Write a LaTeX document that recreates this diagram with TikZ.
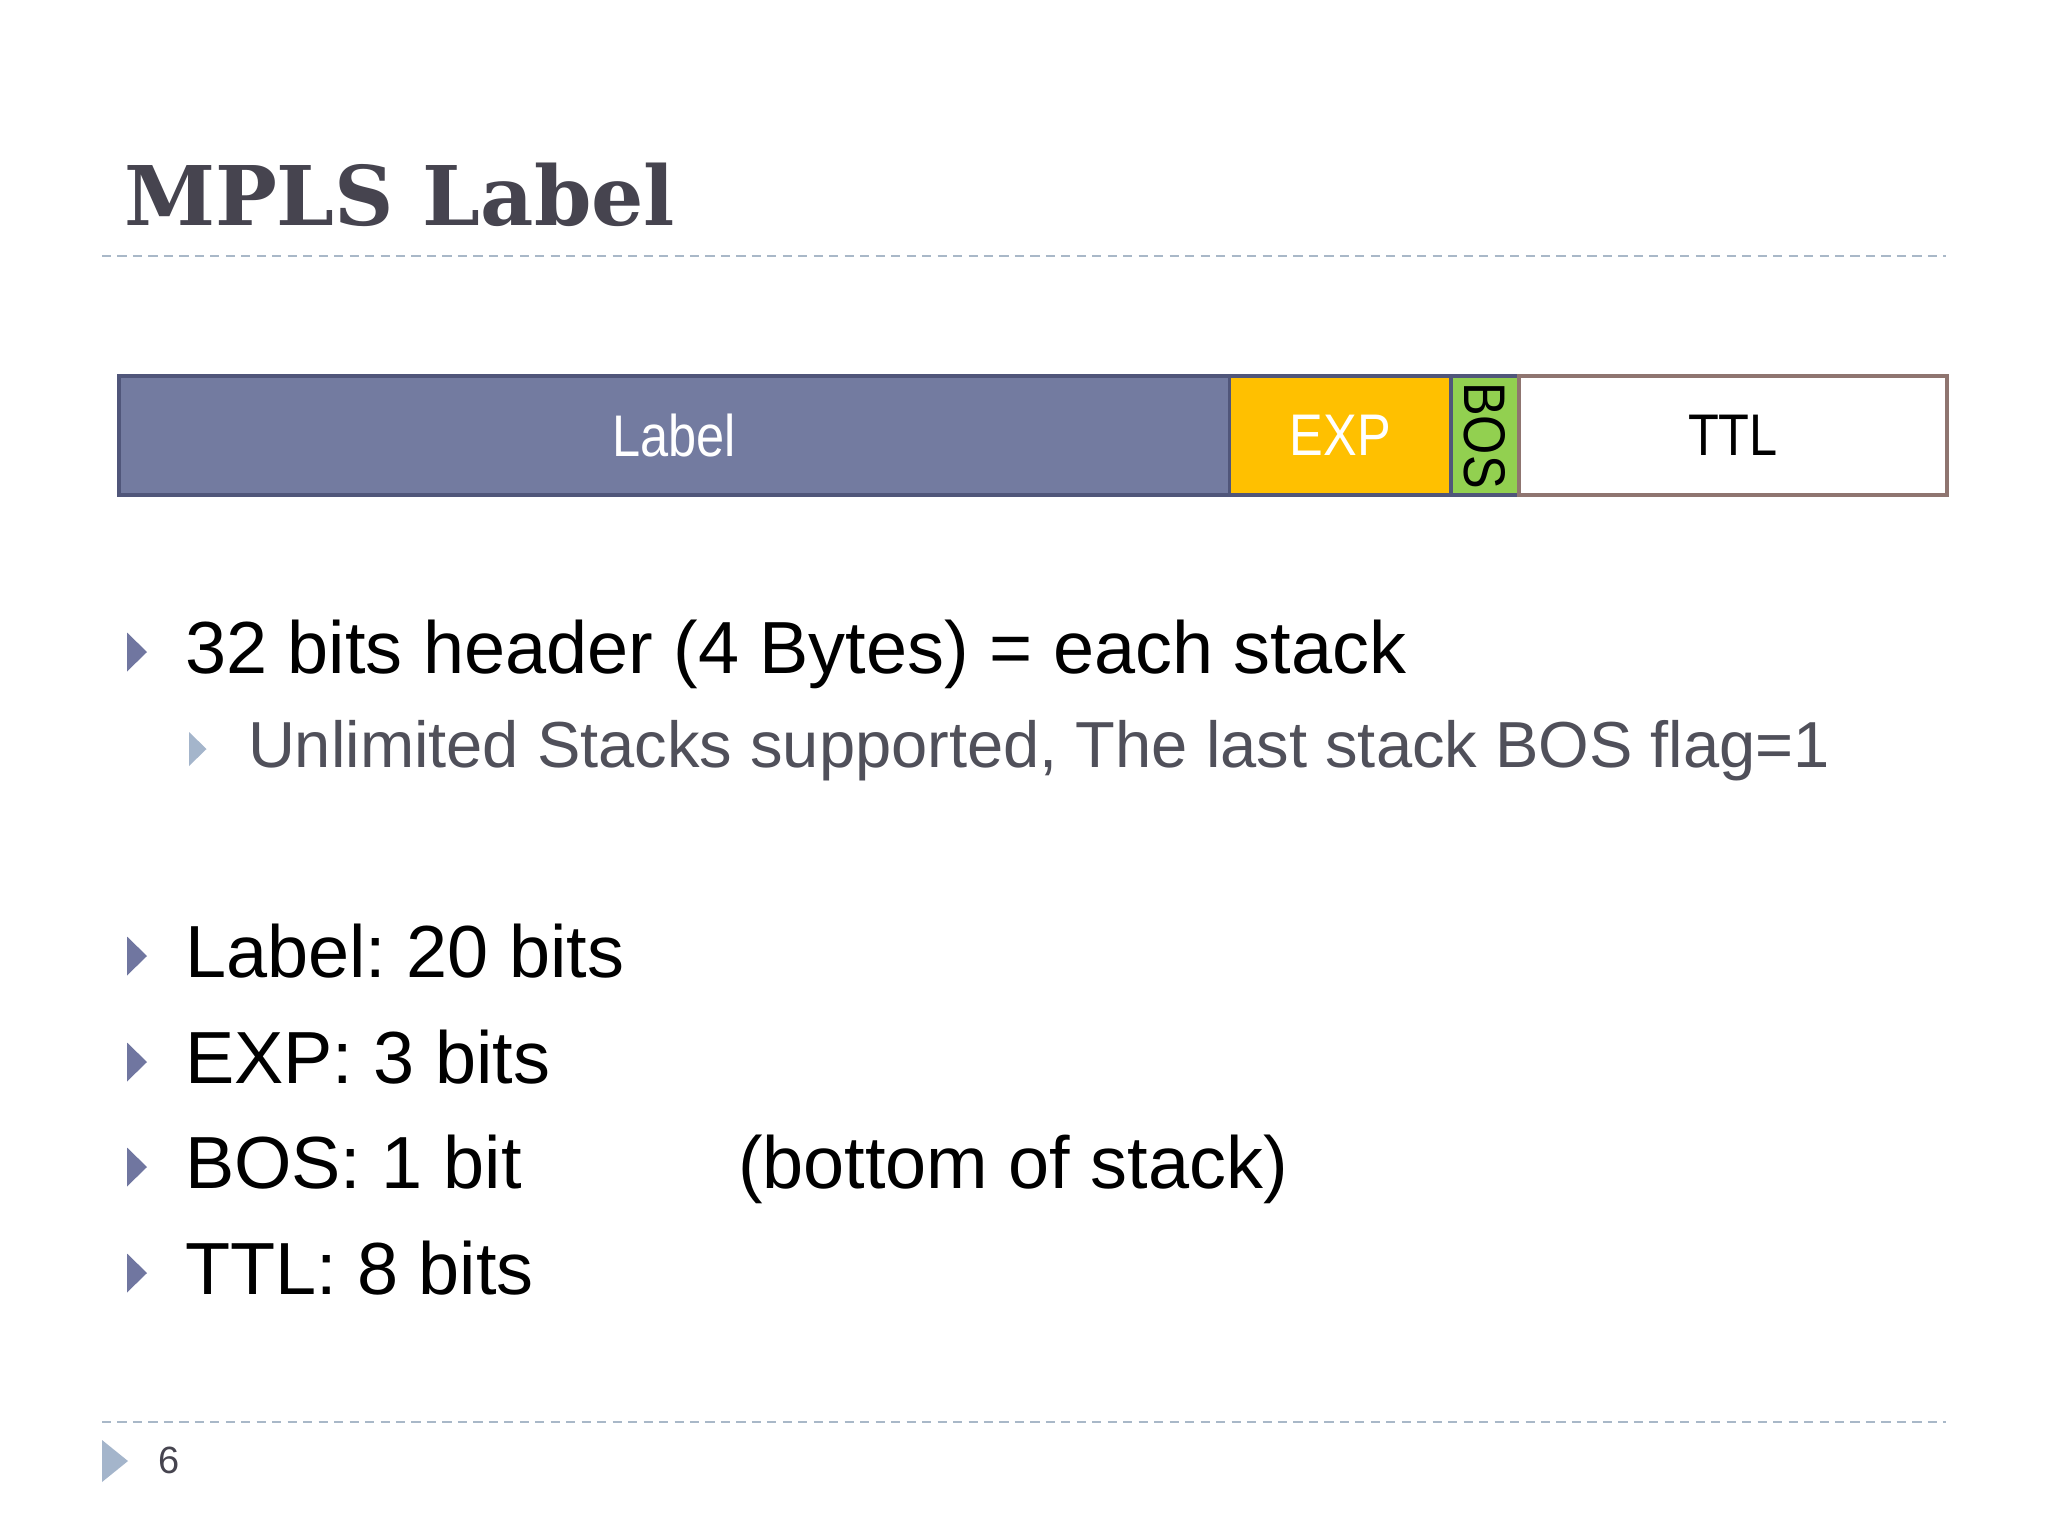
\documentclass[tikz,border=0pt]{standalone}
\usepackage{fontspec}
\setmainfont{Liberation Sans}
\newfontfamily\slabfont{DejaVu Serif}
\usepackage{tikz}
\usetikzlibrary{positioning}
\frenchspacing

\definecolor{titlegray}{HTML}{46444F}
\definecolor{rulegray}{HTML}{A9B8C8}
\definecolor{lblfill}{HTML}{737BA0}
\definecolor{fieldline}{HTML}{50567A}
\definecolor{expfill}{HTML}{FFC000}
\definecolor{bosfill}{HTML}{92D050}
\definecolor{ttlline}{HTML}{8F7570}
\definecolor{bulmain}{HTML}{7076A0}
\definecolor{bulsub}{HTML}{A4B5CB}
\definecolor{subgray}{HTML}{50505A}

\newcommand\tri[5]{\fill[#1] (#2,#3-#4) -- ++(#5,#4) -- ++(-#5,#4) -- cycle;}
\newcommand\narrow[1]{\scalebox{0.86}[1]{#1}}

\begin{document}
\begin{tikzpicture}[
			x=0.01cm, y=-0.01cm
			,every node/.append style={inner sep=0pt, outer sep=0pt}
			,title/.style={anchor=base west, text=titlegray, font=\slabfont\bfseries\fontsize{23.4}{28}\selectfont}
			,rule/.style={draw=rulegray, line width=0.6pt, dash pattern=on 2.6pt off 1.8pt}
			,field/.style={draw=fieldline, line width=1pt, minimum height=1.19cm, font=\fontsize{16.7}{19}\selectfont}
			,main/.style={anchor=base west, font=\fontsize{21}{25}\selectfont}
			,sub/.style={anchor=base west, text=subgray, font=\fontsize{18.5}{22}\selectfont}
		]
			\useasboundingbox[fill=white] (0,0) rectangle (2048,1536);

			\node [title] (head) at (124,225) {MPLS Label};
			\draw [rule] (102,256) -- (1946,256);

			% the 32-bit field
			\node [field, fill=lblfill, text=white, minimum width=11.10cm, anchor=north west] (lbl) at (119,376) {\narrow{Label}};
			\node [field, fill=expfill, text=white, minimum width=2.21cm, right=0pt of lbl] (exp) {\narrow{EXP}};
			\node [field, fill=bosfill, minimum width=0.68cm, right=0pt of exp] (bos) {};
			\node [rotate=-90, font=\fontsize{16.7}{19}\selectfont] (bostxt) at (bos) {\narrow{BOS}};
			\node [field, draw=ttlline, fill=white, minimum width=4.28cm, right=0pt of bos] (ttl) {\narrow{TTL}};

			% bullets
			\tri{bulmain}{127}{652}{19.5}{20}
			\node [main] (t1) at (185,673) {32 bits header (4 Bytes) = each stack};
			\tri{bulsub}{189}{749}{17}{17.5}
			\node [sub] (s1) at (248,767) {Unlimited Stacks supported, The last stack BOS flag=1};

			\tri{bulmain}{127}{956}{19.5}{20}
			\node [main] (t2) at (185,977) {Label: 20 bits};
			\tri{bulmain}{127}{1062}{19.5}{20}
			\node [main] (t3) at (185,1083) {EXP: 3 bits};
			\tri{bulmain}{127}{1167}{19.5}{20}
			\node [main] (t4) at (185,1188) {BOS: 1 bit};
			\node [main] (t4b) at (738,1188) {(bottom of stack)};
			\tri{bulmain}{127}{1273}{19.5}{20}
			\node [main] (t5) at (185,1294) {TTL: 8 bits};

			% footer
			\draw [rule] (102,1422) -- (1946,1422);
			\tri{bulsub}{102}{1461}{21}{26}
			\node [anchor=base west, text=titlegray, font=\fontsize{10.8}{13}\selectfont] (pg) at (158,1473) {6};
		\end{tikzpicture}
\end{document}
